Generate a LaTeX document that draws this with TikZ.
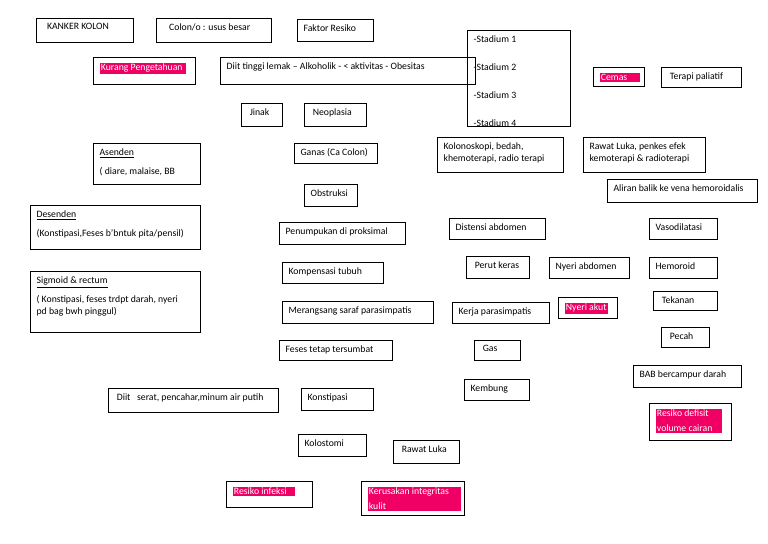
\documentclass[tikz,border=0pt]{standalone}
\usepackage{fontspec}
\setmainfont{Carlito}
\usetikzlibrary{positioning}
\definecolor{hot}{RGB}{240,0,100}
\newcommand{\hl}[1]{{\setlength{\fboxsep}{1pt}\colorbox{hot}{\textcolor{white}{#1}}}}
% box: corners in reference pixels, name, text
\newcommand{\bx}[6]{%
  \node[box, minimum width={(#3-#1)*0.75pt}, minimum height={(#4-#2)*0.75pt}] (#5) at (#1,#2) {};
  \node[lbl] (#5-t) at (#1+5,#2+4) {#6};}
\begin{document}
\begin{tikzpicture}[x=0.75pt, y=-0.75pt,
    box/.style={draw, line width=0.8pt, anchor=north west, inner sep=0pt},
    lbl/.style={anchor=north west, align=left, inner sep=1pt, font=\fontsize{7.3}{14}\selectfont}
]
\useasboundingbox (0,0) rectangle (768,543);

% top row
\bx{36}{18}{133}{42}{kanker}{\ \ KANKER KOLON}
\bx{156}{18}{271}{42}{colon}{\ \ \ Colon/o : usus besar}
\bx{297}{19}{373}{41}{faktor}{Faktor Resiko}
\bx{93}{57}{195}{84}{kurang}{\hl{Kurang Pengetahuan\ }}
\bx{220}{57}{475}{84}{diit}{Diit tinggi lemak -- Alkoholik - < aktivitas - Obesitas}
\bx{241}{103}{282}{126}{jinak}{\ Jinak}
\bx{304}{103}{366}{126}{neo}{\ Neoplasia}
\bx{93}{143}{200}{184}{asenden}{\underline{Asenden}\\( diare, malaise, BB}
\bx{294}{143}{377}{163}{ganas}{Ganas (Ca Colon)}
\bx{304}{184}{357}{206}{obstruksi}{Obstruksi}

% stadium and right side
\bx{467}{30}{570}{126}{stadium}{-Stadium 1\\[7pt]-Stadium 2\\[7pt]-Stadium 3\\[7pt]-Stadium 4}
\bx{593}{67}{644}{86}{cemas}{\hl{Cemas\ \ \ \ \ }}
\bx{661}{67}{741}{87}{paliatif}{\ Terapi paliatif}
\bx{437}{137}{563}{172}{kolono}{Kolonoskopi, bedah,\\[-5pt]khemoterapi, radio terapi}
\bx{583}{137}{705}{172}{rawat}{Rawat Luka, penkes efek\\[-5pt]kemoterapi \& radioterapi}
\bx{607}{179}{757}{202}{aliran}{Aliran balik ke vena hemoroidalis}

% left column
\bx{30}{205}{200}{249}{desenden}{\underline{Desenden}\\(Konstipasi,Feses b'bntuk pita/pensil)}
\bx{30}{271}{200}{332}{sigmoid}{\underline{Sigmoid \& rectum}\\( Konstipasi, feses trdpt darah, nyeri\\[-5pt]pd bag bwh pinggul)}

% middle column
\bx{279}{222}{405}{244}{penumpukan}{Penumpukan di proksimal}
\bx{282}{262}{383}{283}{kompensasi}{Kompensasi tubuh}
\bx{282}{301}{433}{323}{merangsang}{Merangsang saraf parasimpatis}
\bx{279}{340}{392}{360}{feses}{Feses tetap tersumbat}
\bx{108}{388}{278}{412}{diitserat}{\ Diit\ \ \ serat, pencahar,minum air putih}
\bx{301}{388}{373}{410}{konstipasi}{Konstipasi}
\bx{298}{434}{366}{456}{kolostomi}{Kolostomi}
\bx{393}{440}{459}{463}{rawatluka}{\ Rawat Luka}
\bx{226}{481}{312}{507}{infeksi}{\hl{Resiko infeksi\ \ \ }}
\bx{361}{481}{464}{515}{kerusakan}{\hl{\parbox[t]{68pt}{\raggedright Kerusakan integritas\\[-3pt]kulit}}}

% right middle
\bx{449}{218}{545}{239}{distensi}{Distensi abdomen}
\bx{466}{256}{529}{278}{perut}{\ Perut keras}
\bx{549}{257}{629}{278}{nyeriabd}{Nyeri abdomen}
\bx{452}{302}{549}{323}{kerja}{Kerja parasimpatis}
\bx{558}{297}{617}{318}{nyeriakut}{\hl{Nyeri akut}}
\bx{474}{340}{520}{360}{gas}{\ Gas}
\bx{464}{379}{529}{400}{kembung}{Kembung}

% far right
\bx{649}{218}{717}{239}{vaso}{Vasodilatasi}
\bx{649}{257}{717}{278}{hemoroid}{Hemoroid}
\bx{653}{291}{717}{310}{tekanan}{\ Tekanan}
\bx{661}{327}{709}{347}{pecah}{\ Pecah}
\bx{633}{365}{741}{387}{bab}{BAB bercampur darah}
\bx{649}{403}{731}{440}{defisit}{\hl{\parbox[t]{48pt}{\raggedright Resiko defisit\\[-3pt]volume cairan}}}
\end{tikzpicture}
\end{document}
